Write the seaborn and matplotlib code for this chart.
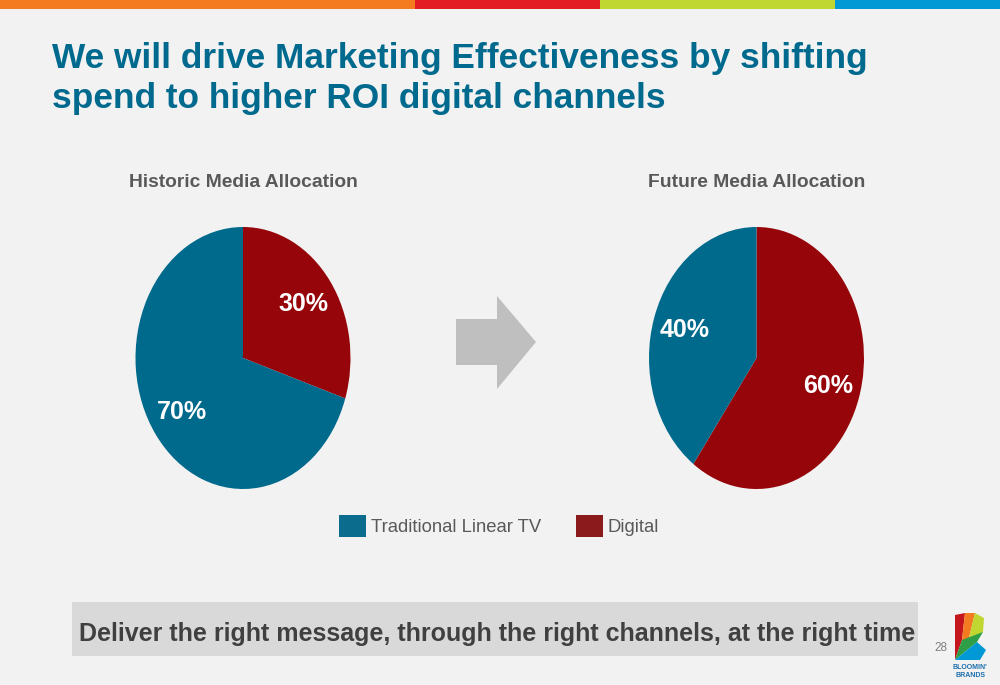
import matplotlib
matplotlib.use("Agg")
import seaborn as sns
from matplotlib import pyplot as plt
from matplotlib.patches import Polygon, Rectangle, Patch

# data
channels = ["Traditional Linear TV", "Digital"]
historic_share = [70, 30]
future_share = [40, 60]
pie_titles = ["Historic Media Allocation", "Future Media Allocation"]
title_lines = ["We will drive Marketing Effectiveness by shifting",
               "spend to higher ROI digital channels"]
banner_text = "Deliver the right message, through the right channels, at the right time"
page_no = "28"

teal = "#006A8C"
red = "#960509"
legend_cols = ["#0B6C8E", "#8A1A1C"]
stripe_cols = ["#F47B20", "#E31B23", "#BFD730", "#0099D6"]

sns.set_theme(style="white", rc={"figure.facecolor": "#F2F2F2", "axes.facecolor": "#F2F2F2"})
# set font list after set_theme (no narrow face available, so sizes are reduced to match widths)
plt.rcParams["font.family"] = ["Liberation Sans", "DejaVu Sans"]

W, H = 1000, 685
fig = plt.figure(figsize=(10, 6.85), dpi=100)


def fx(x):
    return x / W


def fy(y):
    # pixel rows from the top -> figure fraction
    return 1 - y / H


# top colour stripe
edges = [0, 415, 600, 835, 1000]
for i, c in enumerate(stripe_cols):
    fig.patches.append(Rectangle((fx(edges[i]), fy(9)), fx(edges[i + 1] - edges[i]), 9 / H,
                                 transform=fig.transFigure, color=c, lw=0))

# title
for line, base in zip(title_lines, [68, 108]):
    fig.text(fx(52), fy(base), line, fontsize=25.4, fontweight="bold", color="#006A8E",
             va="baseline", ha="left")

# pies (slide is stretched, so pies are drawn as ellipses)
order = [1, 0]  # digital first, clockwise from 12 o'clock
for k, (share, left) in enumerate([(historic_share, 135.5), (future_share, 649)]):
    ax = fig.add_axes([fx(left), fy(489), fx(215), 262 / H])
    vals = [share[i] for i in order]
    cols = [red, teal]
    ax.pie(vals, colors=cols, startangle=90, counterclock=False,
           autopct="%d%%", pctdistance=0.7,
           textprops=dict(color="white", fontsize=18, fontweight="bold"),
           wedgeprops=dict(linewidth=0))
    ax.set_aspect("auto")
    ax.set_xlim(-1, 1)
    ax.set_ylim(-1, 1)
    ax.axis("off")
    fig.text(fx(left + 107.5), fy(187), pie_titles[k], fontsize=13.9, fontweight="bold",
             color="#595959", ha="center", va="baseline")

# arrow between the pies
arrow_px = [(456, 319), (497, 319), (497, 296), (536, 342), (497, 389), (497, 365), (456, 365)]
fig.patches.append(Polygon([(fx(x), fy(y)) for x, y in arrow_px], closed=True,
                           transform=fig.transFigure, color="#BFBFBF", lw=0))

# legend
handles = [Patch(facecolor=c, edgecolor="none") for c in legend_cols]
fig.legend(handles, channels, loc="center", bbox_to_anchor=(fx(499), fy(526)), ncol=2,
           frameon=False, fontsize=13.3, labelcolor="#595959", handlelength=1.46,
           handleheight=1.5, handletextpad=0.27, columnspacing=1.9, borderpad=0)

# bottom banner
fig.patches.append(Rectangle((fx(72), fy(656)), fx(846), 54 / H, transform=fig.transFigure,
                             color="#D9D9D9", lw=0))
fig.text(fx(79), fy(641), banner_text, fontsize=18, fontweight="bold", color="#404040",
         ha="left", va="baseline")

# page number
fig.text(fx(941), fy(651), page_no, fontsize=8.5, color="#808080", ha="center", va="baseline")

# logo (rough)
logo = [("#C4161C", [(955, 660), (955, 615), (965, 613), (962, 640)]),
        ("#F47B20", [(962, 640), (965, 613), (975, 613), (968, 642)]),
        ("#BFD730", [(968, 642), (975, 613), (984, 618), (983, 632)]),
        ("#2E9E47", [(955, 660), (962, 640), (983, 632), (977, 642)]),
        ("#0099D6", [(955, 660), (977, 642), (986, 650), (980, 660)])]
for c, pts in logo:
    fig.patches.append(Polygon([(fx(x), fy(y)) for x, y in pts], closed=True,
                               transform=fig.transFigure, color=c, lw=0))
fig.text(fx(970), fy(669), "BLOOMIN'", fontsize=5, fontweight="bold", color="#1B6FAE",
         ha="center", va="baseline")
fig.text(fx(970), fy(677), "BRANDS", fontsize=5, fontweight="bold", color="#1B6FAE",
         ha="center", va="baseline")

fig.savefig("out.png", dpi=100, facecolor=fig.get_facecolor())
